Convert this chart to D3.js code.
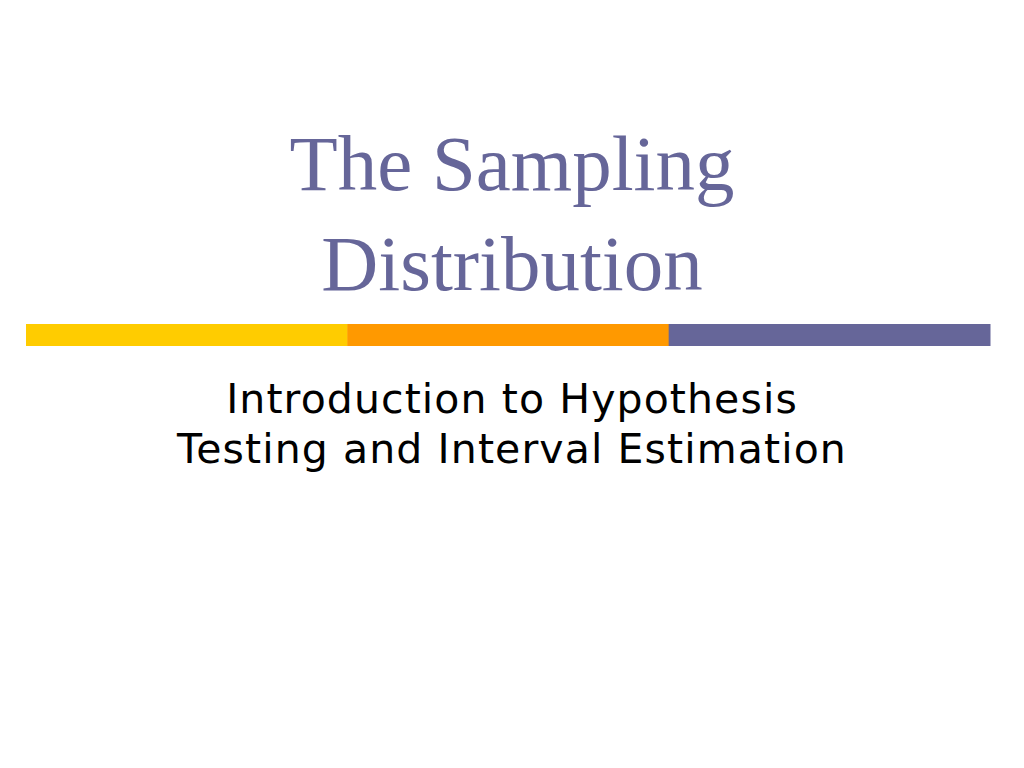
<!DOCTYPE html>
<html>
<head>
<meta charset="utf-8">
<script src="https://cdn.jsdelivr.net/npm/d3@7"></script>
<style>
  html, body { margin: 0; padding: 0; background: #fff; }
  svg { display: block; }
</style>
</head>
<body>
<svg></svg>
<script>
const titleLines = ["The Sampling", "Distribution"];
const subtitleLines = ["Introduction to Hypothesis", "Testing and Interval Estimation"];
const barSegments = ["first", "second", "third"];
const barColors = ["#FFCC00", "#FF9900", "#666699"];

const width = 1024;
const height = 768;
const svg = d3.select("svg")
    .attr("width", width)
    .attr("height", height);

// title, serif in slide blue
const title = svg.append("g");
title.selectAll("text")
    .data(titleLines)
    .enter().append("text")
    .attr("x", width / 2)
    .attr("y", (d, i) => 190 + i * 100)
    .attr("text-anchor", "middle")
    .style("font-family", "'Liberation Serif', 'DejaVu Serif', serif")
    .style("font-size", "84px")
    .style("fill", "#666699")
    .text(d => d);

// fit first line to the width in the slide
const w0 = title.select("text").node().getComputedTextLength();
const titleSize = 84 * 445 / w0;
title.selectAll("text").style("font-size", titleSize + "px");

// three colour bar
const x = d3.scaleBand()
    .domain(barSegments)
    .range([26, 990])
    .padding(0);

svg.append("g").selectAll("rect")
    .data(barSegments)
    .enter().append("rect")
    .attr("x", d => x(d))
    .attr("y", 324)
    .attr("width", x.bandwidth() + 0.5)
    .attr("height", 22)
    .attr("fill", (d, i) => barColors[i]);

// subtitle
svg.append("g").selectAll("text")
    .data(subtitleLines)
    .enter().append("text")
    .attr("x", width / 2)
    .attr("y", (d, i) => 413 + i * 50)
    .attr("text-anchor", "middle")
    .style("font-family", "Verdana, 'DejaVu Sans', sans-serif")
    .style("font-size", "41px")
    .style("letter-spacing", "1.1px")
    .style("fill", "#000")
    .text(d => d);
</script>
</body>
</html>
